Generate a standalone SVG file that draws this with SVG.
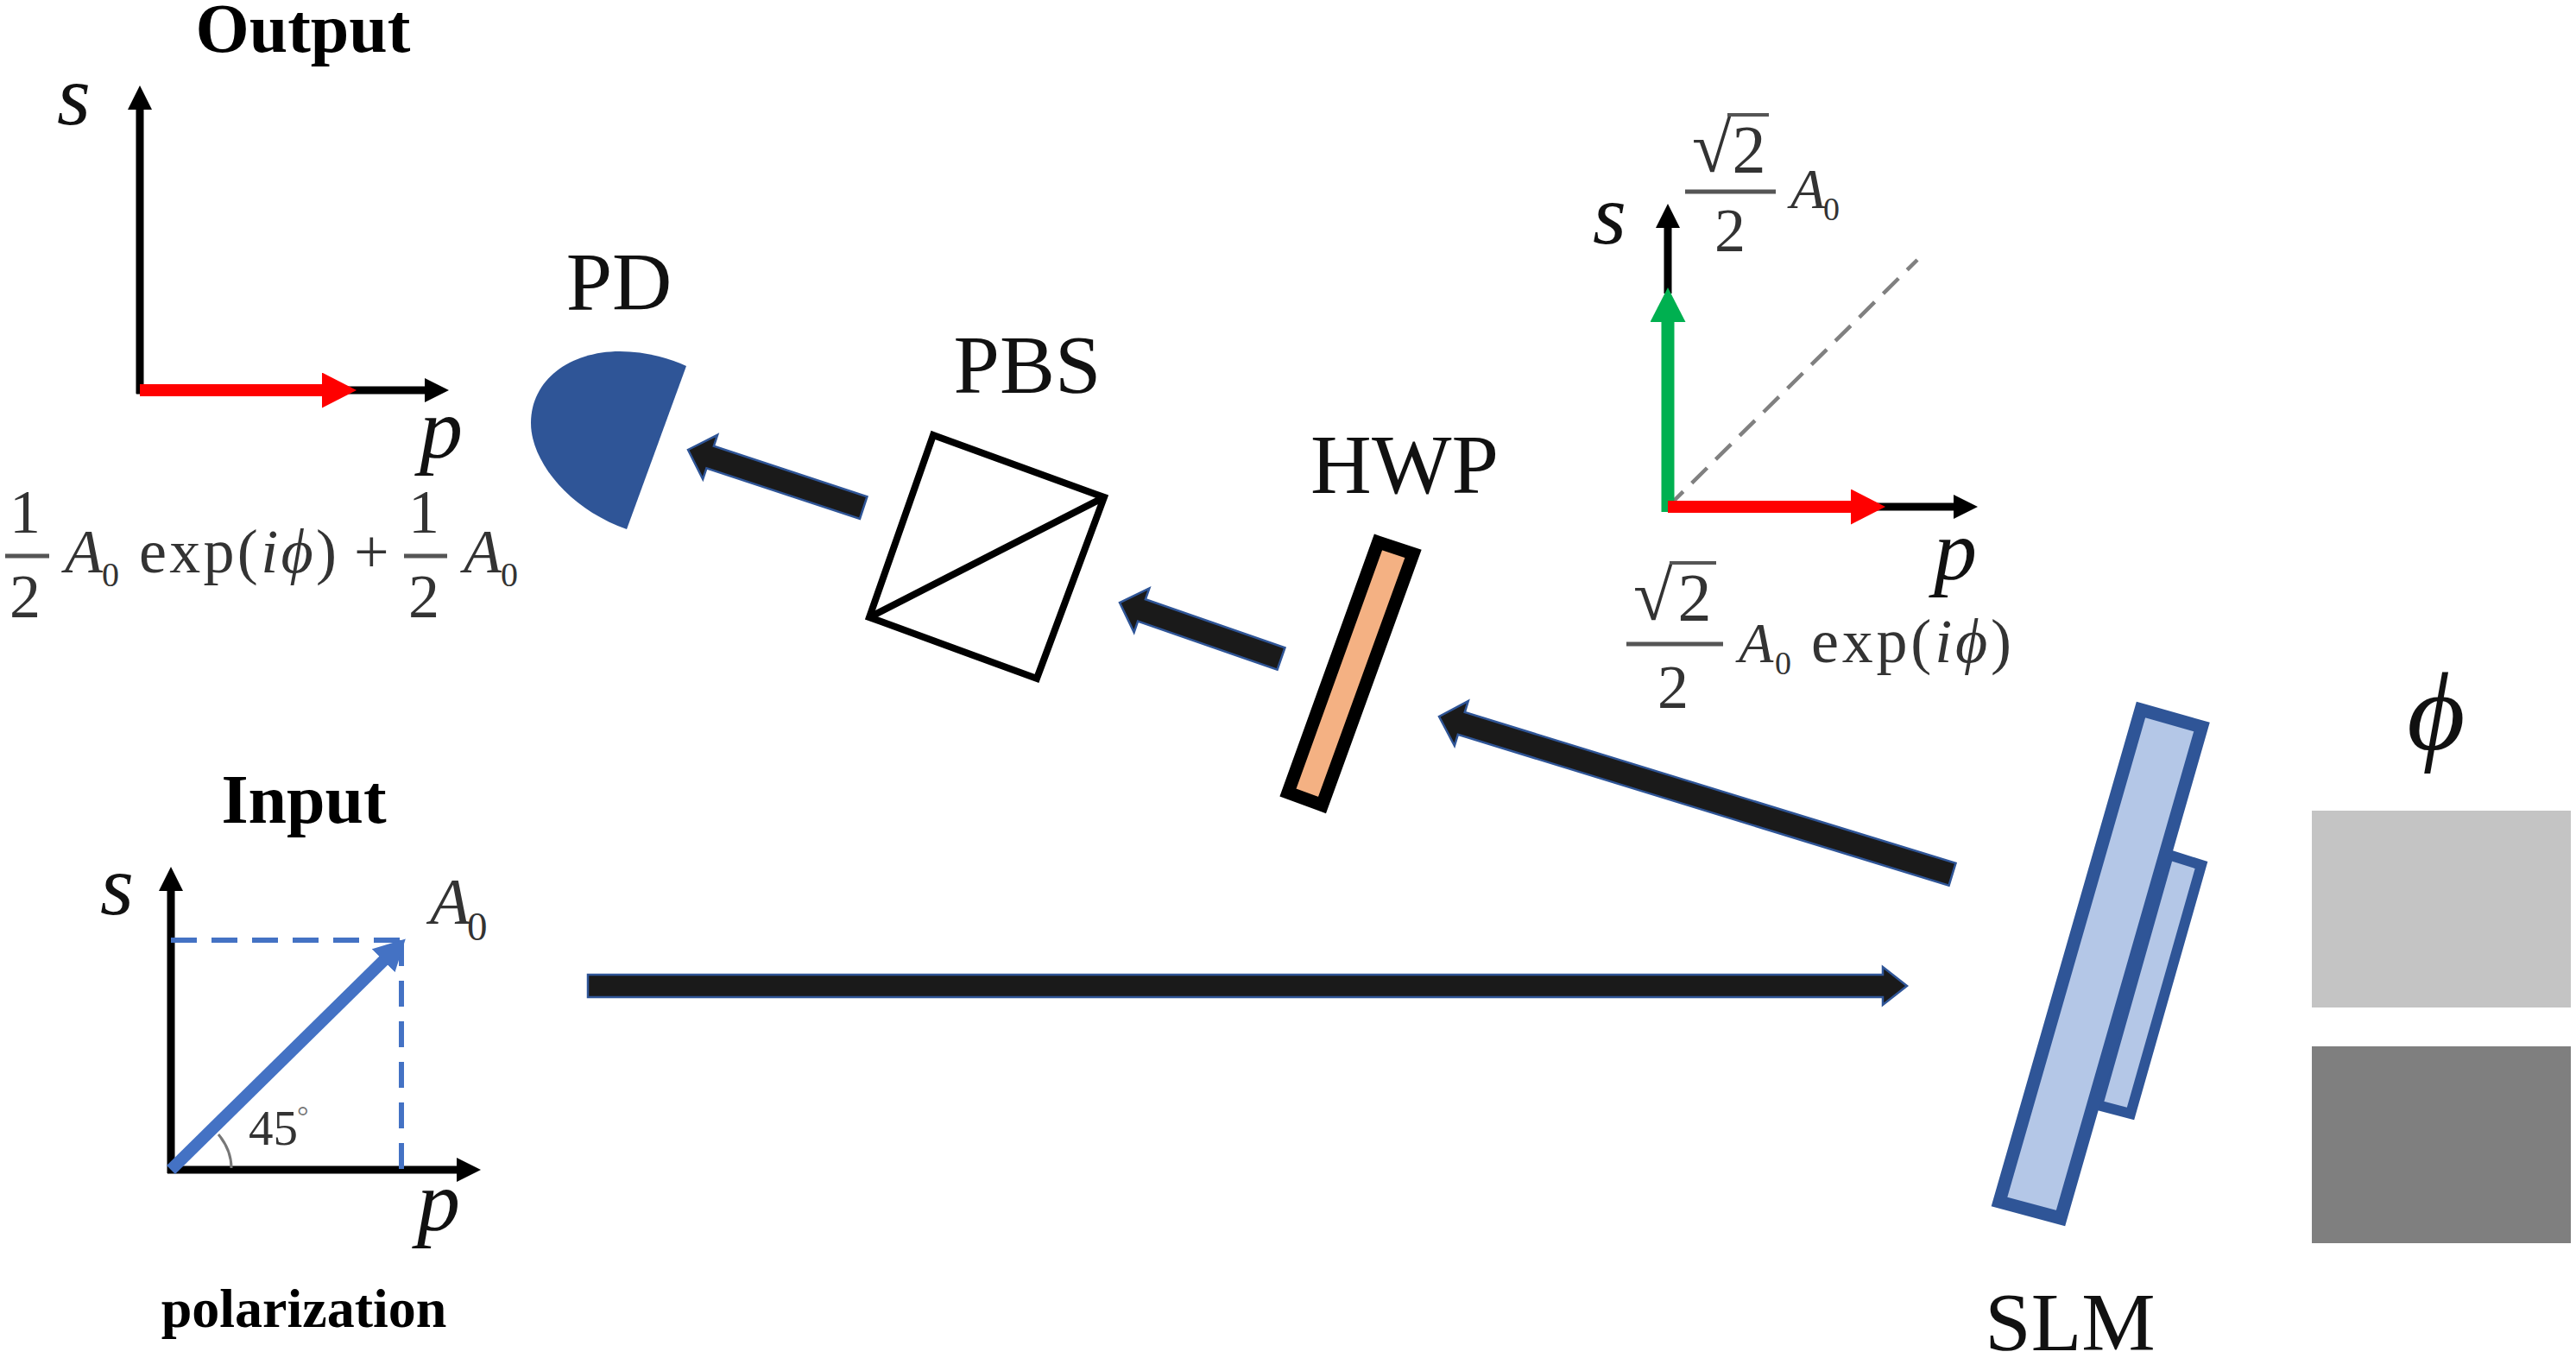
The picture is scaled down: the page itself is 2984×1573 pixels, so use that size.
<svg xmlns="http://www.w3.org/2000/svg" width="2984" height="1573" viewBox="0 0 2984 1573">
<style>
text{font-family:"Liberation Serif","Times New Roman",serif;fill:#111}
.b{font-weight:bold;font-size:80px;fill:#000}
.lab{font-size:96px}
.it{font-style:italic}
.ax{font-style:italic;font-size:100px}
.m{font-size:72px;fill:#333}
.sub{font-size:40px;fill:#333}
.ka{stroke:#000;stroke-width:9;fill:none;marker-end:url(#k)}
.fat{fill:#1a1a1a;stroke:#2F5597;stroke-width:2.5}
.frac{stroke:#555;stroke-width:5}
</style>
<defs>
<marker id="k" markerUnits="userSpaceOnUse" markerWidth="30" markerHeight="30" refX="2" refY="14" orient="auto"><path d="M0,0L28,14L0,28Z" fill="#000"/></marker>
<marker id="r" markerUnits="userSpaceOnUse" markerWidth="42" markerHeight="42" refX="2" refY="20.500" orient="auto"><path d="M0,0L40,20.500L0,41Z" fill="#f00"/></marker>
<marker id="g" markerUnits="userSpaceOnUse" markerWidth="42" markerHeight="42" refX="2" refY="20.500" orient="auto"><path d="M0,0L40,20.500L0,41Z" fill="#00B050"/></marker>
<marker id="bl" markerUnits="userSpaceOnUse" markerWidth="42" markerHeight="42" refX="4" refY="19" orient="auto"><path d="M0,0L36,19L0,38Z" fill="#4472C4"/></marker>
</defs>

<g id="connectors">
<polygon class="fat" transform="translate(797 521) rotate(198.26)" points="0,0 -27,-27 -27,-13.500 -214,-13.500 -214,13.500 -27,13.500 -27,27"/>
<polygon class="fat" transform="translate(1297 698) rotate(199.16)" points="0,0 -27,-27 -27,-13.500 -198,-13.500 -198,13.500 -27,13.500 -27,27"/>
<polygon class="fat" transform="translate(1667 830) rotate(197.09)" points="0,0 -27,-27 -27,-13.500 -622,-13.500 -622,13.500 -27,13.500 -27,27"/>
<polygon class="fat" points="2209,1142 2181,1120 2181,1129 681,1129 681,1155 2181,1155 2181,1164"/>
</g>

<g id="output-chart">
<text class="b" x="351" y="60" text-anchor="middle">Output</text>
<text class="ax" x="66" y="144">s</text>
<text class="ax" x="486" y="530">p</text>
<line class="ka" x1="162" y1="456" x2="162" y2="125"/>
<line class="ka" x1="158" y1="452" x2="494" y2="452"/>
<line x1="162" y1="452" x2="375" y2="452" stroke="#f00" stroke-width="14" marker-end="url(#r)"/>
<text class="m" x="29" y="617" text-anchor="middle">1</text>
<line class="frac" x1="6" y1="644" x2="57" y2="644"/>
<text class="m" x="29" y="715" text-anchor="middle">2</text>
<text class="m it" x="75" y="663">A</text>
<text class="sub" x="118" y="679">0</text>
<text class="m" x="161" y="663" textLength="229">exp(<tspan class="it">iϕ</tspan>)</text>
<text class="m" x="410" y="663">+</text>
<text class="m" x="491" y="617" text-anchor="middle">1</text>
<line class="frac" x1="468" y1="644" x2="518" y2="644"/>
<text class="m" x="491" y="715" text-anchor="middle">2</text>
<text class="m it" x="537" y="663">A</text>
<text class="sub" x="580" y="679">0</text>
</g>

<g id="pd">
<path d="M795,424L726,613C660,590 615,535 615,490C615,440 660,407 718,407C745,407 775,414 795,424Z" fill="#2F5597"/>
<text class="lab" x="717" y="359" text-anchor="middle">PD</text>
</g>

<g id="pbs">
<path d="M1081,504L1279,576L1201,786L1007,715ZM1279,576L1007,715" fill="none" stroke="#000" stroke-width="8" stroke-linejoin="miter"/>
<text class="lab" x="1190" y="455" text-anchor="middle">PBS</text>
</g>

<g id="hwp">
<polygon points="1596.500,628 1637,641.500 1531.500,932.500 1492,918" fill="#F4B183" stroke="#000" stroke-width="15"/>
<text class="lab" x="1627" y="571" text-anchor="middle" style="font-size:98px">HWP</text>
</g>

<g id="middle-chart">
<text class="ax" x="1845" y="282">s</text>
<text class="ax" x="2240" y="671">p</text>
<line class="ka" x1="1932" y1="340" x2="1932" y2="262"/>
<line class="ka" x1="2170" y1="587" x2="2265" y2="587" stroke-width="7"/>
<line x1="1932" y1="587" x2="2221" y2="301" stroke="#808080" stroke-width="4.500" stroke-dasharray="25 14"/>
<line x1="1932" y1="593" x2="1932" y2="371" stroke="#00B050" stroke-width="15" marker-end="url(#g)"/>
<line x1="1932" y1="587" x2="2146" y2="587" stroke="#f00" stroke-width="14" marker-end="url(#r)"/>
<text class="m" x="1960" y="199" style="font-size:84px">√</text>
<line x1="2001" y1="133" x2="2049" y2="133" stroke="#555" stroke-width="4"/>
<text class="m" x="2026" y="199" text-anchor="middle" style="font-size:78px">2</text>
<line class="frac" x1="1952" y1="222" x2="2057" y2="222"/>
<text class="m" x="2004" y="291" text-anchor="middle">2</text>
<text class="m it" x="2074" y="241" style="font-size:66px">A</text>
<text class="sub" x="2112" y="255" style="font-size:38px">0</text>
<text class="m" x="1892" y="718" style="font-size:84px">√</text>
<line x1="1934" y1="652" x2="1988" y2="652" stroke="#555" stroke-width="4"/>
<text class="m" x="1963" y="718" text-anchor="middle" style="font-size:78px">2</text>
<line class="frac" x1="1884" y1="746" x2="1996" y2="746"/>
<text class="m" x="1938" y="820" text-anchor="middle">2</text>
<text class="m it" x="2014" y="767" style="font-size:66px">A</text>
<text class="sub" x="2056" y="781" style="font-size:38px">0</text>
<text class="m" x="2098" y="767" textLength="232">exp(<tspan class="it">iϕ</tspan>)</text>
</g>

<g id="input-chart">
<text class="b" x="352" y="953" text-anchor="middle">Input</text>
<text class="ax" x="116" y="1059">s</text>
<text class="ax" x="483" y="1425">p</text>
<text class="it" x="498" y="1070" style="font-size:76px;fill:#333">A</text>
<text x="541" y="1089" style="font-size:47px;fill:#333">0</text>
<line class="ka" x1="198" y1="1359" x2="198" y2="1030"/>
<line class="ka" x1="194" y1="1355" x2="531" y2="1355"/>
<path d="M198,1089H469M465,1089V1355" fill="none" stroke="#4472C4" stroke-width="6" stroke-dasharray="30 17"/>
<path d="M253,1314Q268,1332 268,1353" fill="none" stroke="#777" stroke-width="3"/>
<line x1="198" y1="1355" x2="447" y2="1110" stroke="#4472C4" stroke-width="14" marker-end="url(#bl)"/>
<text x="288" y="1326" style="font-size:57px;fill:#333">45</text>
<text x="344" y="1304" style="font-size:34px;fill:#777">°</text>
<text class="b" x="352" y="1537" text-anchor="middle" style="font-size:64px">polarization</text>
</g>

<g id="slm">
<polygon points="2512,990 2550,1002 2468,1290 2430,1280" fill="#B4C7E7" stroke="#2F5597" stroke-width="12"/>
<polygon points="2480,822 2550.500,842 2387,1411 2316,1392" fill="#B4C7E7" stroke="#2F5597" stroke-width="15"/>
<text class="lab" x="2398" y="1564" text-anchor="middle">SLM</text>
</g>

<g id="phase">
<text class="it" x="2822" y="868" text-anchor="middle" style="font-size:130px">ϕ</text>
<rect x="2678" y="939" width="300" height="228" fill="#C4C4C4"/>
<rect x="2678" y="1212" width="300" height="228" fill="#7F7F7F"/>
</g>
</svg>
